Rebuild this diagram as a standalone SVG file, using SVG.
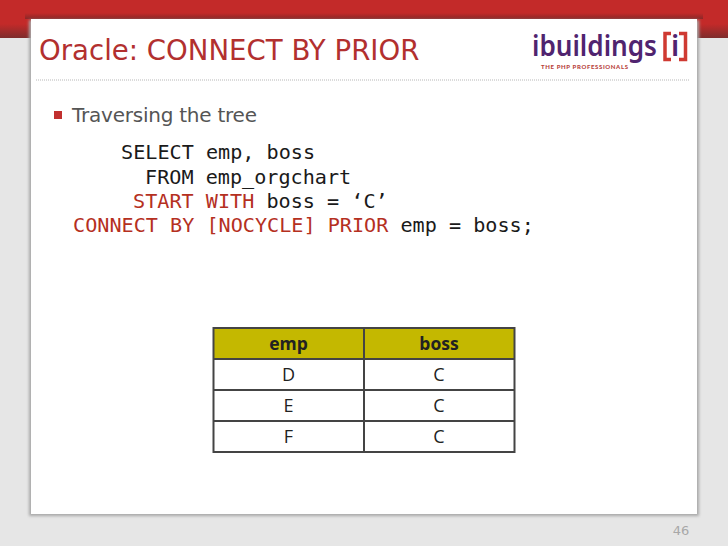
<svg xmlns="http://www.w3.org/2000/svg" width="728" height="546" viewBox="0 0 728 546">
<defs>
<linearGradient id="side" x1="0" y1="0" x2="0" y2="1"><stop offset="0" stop-color="#c32a29"/><stop offset="1" stop-color="#7e2c2c"/></linearGradient>
<linearGradient id="top" x1="0" y1="0" x2="0" y2="1"><stop offset="0" stop-color="#c32a29"/><stop offset="1" stop-color="#8a2727"/></linearGradient>
<filter id="sh" x="-3%" y="-3%" width="106%" height="106%"><feGaussianBlur stdDeviation="1.4"/></filter>
</defs>
<style>
.title{font-family:"DejaVu Sans",sans-serif;font-size:27.6px;fill:#b2302f}
.bullet{font-family:"DejaVu Sans",sans-serif;font-size:20px;fill:#555}
.code{font-family:"DejaVu Sans Mono",monospace;font-size:20.15px;fill:#1a1a1a;white-space:pre}
.kw{fill:#b5301f}
.th{font-family:"Open Sans",sans-serif;font-size:17.500px;font-weight:700;fill:#222;text-anchor:middle}
.td{font-family:"Open Sans",sans-serif;font-size:18px;fill:#222;text-anchor:middle}
.grid{stroke:#444;stroke-width:2;fill:none}
</style>
<rect width="728" height="546" fill="#e6e6e6"/>
<rect width="728" height="24" fill="#c32a29"/>
<rect y="24" width="728" height="14" fill="url(#side)"/>
<rect x="25" y="13" width="678" height="6" fill="url(#top)"/>
<rect x="29" y="20" width="670" height="496" fill="#a8a8a8" filter="url(#sh)"/>
<rect x="31" y="19" width="666" height="495" fill="#fff"/>
<line x1="36" y1="80" x2="690" y2="80" stroke="#d0d0d0" stroke-width="1.500" stroke-dasharray="1 1"/>
<text class="title" x="39" y="60">Oracle: CONNECT BY PRIOR</text>
<g id="logo">
<text x="532" y="56" font-family="Noto Sans,sans-serif" font-size="29" font-weight="600" fill="#50246f" textLength="125" lengthAdjust="spacingAndGlyphs">ibuildings</text>
<path d="M671 33.500H665V59.500H671M679 33.500H685.500V59.500H679" fill="none" stroke="#cf3a32" stroke-width="3.500"/>
<text x="675" y="56" font-family="Noto Sans,sans-serif" font-size="29" font-weight="600" fill="#50246f" text-anchor="middle">i</text>
<text x="541" y="68.500" font-family="Lato,sans-serif" font-size="6" font-weight="900" fill="#b8433c" textLength="87">THE PHP PROFESSIONALS</text>
</g>
<rect x="54" y="111" width="8" height="8" fill="#c1302f"/>
<text class="bullet" x="72" y="122" textLength="185">Traversing the tree</text>
<text class="code" x="121" y="159">SELECT emp, boss</text>
<text class="code" x="145" y="184">FROM emp_orgchart</text>
<text class="code" x="133" y="208"><tspan class="kw">START WITH</tspan> boss = ‘C’</text>
<text class="code" x="73" y="232"><tspan class="kw">CONNECT BY [NOCYCLE] PRIOR</tspan> emp = boss;</text>
<g id="table">
<rect x="213.500" y="328" width="301" height="31" fill="#c4b800"/>
<path class="grid" d="M213.500 328H514.500V452H213.500ZM213.500 359H514.500M213.500 390H514.500M213.500 421H514.500M364 328V452"/>
<text class="th" x="288.500" y="350">emp</text><text class="th" x="439" y="350">boss</text>
<text class="td" x="288.500" y="381">D</text><text class="td" x="439" y="381">C</text>
<text class="td" x="288.500" y="412">E</text><text class="td" x="439" y="412">C</text>
<text class="td" x="288.500" y="443">F</text><text class="td" x="439" y="443">C</text>
</g>
<text x="681" y="535" font-family="DejaVu Sans,sans-serif" font-size="13" fill="#a8a8a8" text-anchor="middle">46</text>
</svg>
